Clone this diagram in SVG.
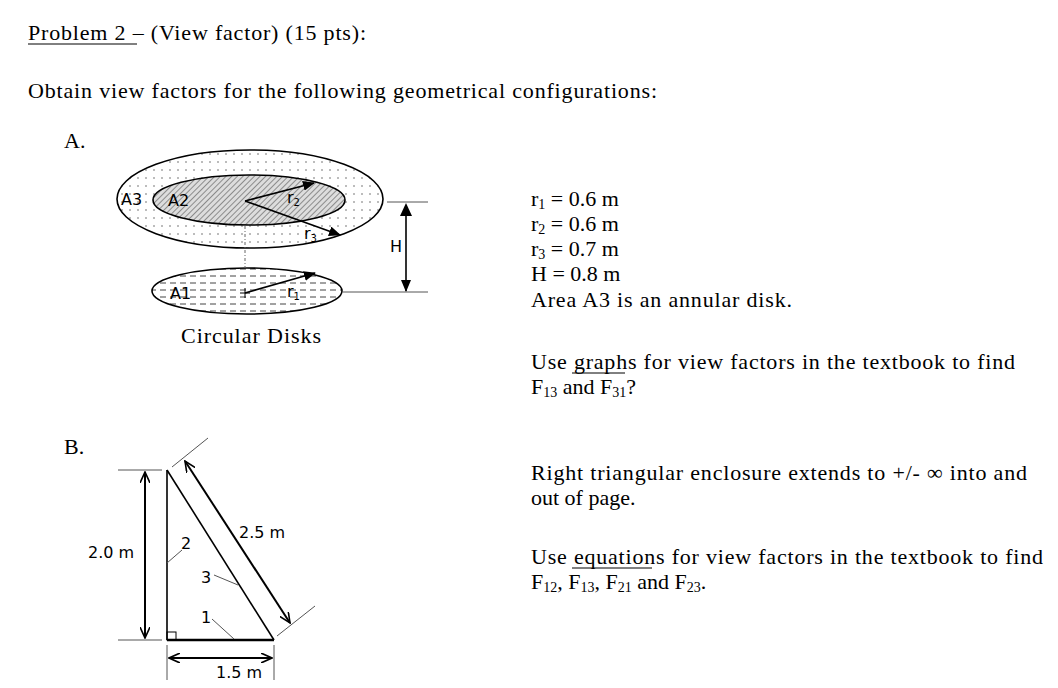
<svg xmlns="http://www.w3.org/2000/svg" width="1058" height="688" viewBox="0 0 1058 688">
<style>
.t{font-family:"Liberation Serif",serif;font-size:22px;fill:#000}
.s{font-family:"DejaVu Sans",sans-serif;font-size:16px;fill:#000}
.l{stroke:#000;fill:none;stroke-width:1.6}
.g{stroke:#555;fill:none;stroke-width:1}
</style>
<defs>
<pattern id="dots" width="8" height="8" patternUnits="userSpaceOnUse"><rect width="8" height="8" fill="#fff"/><circle cx="2" cy="2" r="0.8" fill="#666"/></pattern>
<pattern id="hatch" width="4" height="4" patternUnits="userSpaceOnUse" patternTransform="rotate(45)"><rect width="4" height="4" fill="#ddd"/><line x1="0" y1="0" x2="0" y2="4" stroke="#555" stroke-width="1.2"/></pattern>
<pattern id="dash" width="10" height="7" patternUnits="userSpaceOnUse"><rect width="10" height="7" fill="#fff"/><line x1="0" y1="3" x2="6" y2="3" stroke="#444" stroke-width="1"/></pattern>
<marker id="a" markerWidth="12" markerHeight="10" refX="11" refY="5" orient="auto" markerUnits="userSpaceOnUse"><path d="M0,0L12,5L0,10z" fill="#000"/></marker>
<marker id="o" markerWidth="12" markerHeight="10" refX="11" refY="5" orient="auto" markerUnits="userSpaceOnUse"><path d="M0,0L11,5L0,10" fill="none" stroke="#000" stroke-width="1.6"/></marker>
<marker id="os" markerWidth="12" markerHeight="10" refX="1" refY="5" orient="auto" markerUnits="userSpaceOnUse"><path d="M12,0L1,5L12,10" fill="none" stroke="#000" stroke-width="1.6"/></marker>
</defs>
<rect width="1058" height="688" fill="#fff"/>
<text class="t" x="28" y="40" textLength="338">Problem 2 – (View factor) (15 pts):</text>
<line x1="28" y1="44" x2="137" y2="44" stroke="#000" stroke-width="1"/>
<text class="t" x="28" y="98" textLength="629">Obtain view factors for the following geometrical configurations:</text>
<text class="t" x="64" y="148">A.</text>
<text class="t" x="64" y="454">B.</text>
<g id="diskA3"><ellipse cx="250" cy="199" rx="133" ry="49" style="fill:url(#dots)" class="l"/><text class="s" x="121" y="205">A3</text></g>
<g id="diskA2"><ellipse cx="249" cy="200" rx="96" ry="25" style="fill:url(#hatch)" class="l"/><text class="s" x="168" y="206" font-size="18">A2</text></g>
<g id="diskA1"><ellipse cx="247" cy="291" rx="95" ry="23" style="fill:url(#dash)" class="l"/><text class="s" x="170" y="299" font-size="18">A1</text></g>
<g id="connectors">
<line x1="245" y1="226" x2="245" y2="268" stroke="#666" stroke-dasharray="3,2,1,2"/>
<line x1="245" y1="201" x2="314" y2="183" class="l" marker-end="url(#a)"/>
<line x1="245" y1="201" x2="340" y2="235" class="l" marker-end="url(#a)"/>
<line x1="245" y1="293" x2="315" y2="273" class="l" marker-end="url(#a)"/>
<line x1="240" y1="293" x2="250" y2="293" stroke="#000"/><line x1="245" y1="288" x2="245" y2="298" stroke="#000"/>
<line x1="387" y1="202" x2="428" y2="202" class="g"/>
<line x1="343" y1="292" x2="428" y2="292" class="g"/>
<line x1="406" y1="214" x2="406" y2="291" class="l" marker-end="url(#a)"/>
<path d="M406,203l-6,13h12z" fill="#000"/>
<line x1="167" y1="470" x2="167" y2="640" class="l"/>
<line x1="167" y1="470" x2="274" y2="640" class="l"/>
<line x1="167" y1="640" x2="274" y2="640" stroke="#000" stroke-width="2.4"/>
<rect x="167" y="632" width="9" height="8" fill="none" stroke="#000" stroke-width="1"/>
<line x1="172" y1="467" x2="208" y2="438" class="g"/>
<line x1="277" y1="636" x2="315" y2="606" class="g"/>
<line x1="185" y1="461" x2="290" y2="623" stroke="#000" stroke-width="2" marker-start="url(#os)" marker-end="url(#o)"/>
<line x1="118" y1="470" x2="162" y2="470" class="g"/>
<line x1="118" y1="640" x2="162" y2="640" class="g"/>
<line x1="145" y1="472" x2="145" y2="638" stroke="#000" stroke-width="2" marker-start="url(#os)" marker-end="url(#o)"/>
<line x1="167" y1="645" x2="167" y2="680" class="g"/>
<line x1="274" y1="645" x2="274" y2="680" class="g"/>
<line x1="169" y1="658" x2="272" y2="658" stroke="#000" stroke-width="2" marker-start="url(#os)" marker-end="url(#o)"/>
<line x1="167" y1="563" x2="182" y2="550" class="g"/>
<line x1="214" y1="575" x2="238" y2="585" class="g"/>
<line x1="212" y1="619" x2="234" y2="639" class="g"/>
</g>
<text class="s" x="287" y="203" font-size="15" fill="#555">r<tspan font-size="10" dy="3">2</tspan></text>
<text class="s" x="304" y="239" font-size="15">r<tspan font-size="10" dy="3">3</tspan></text>
<text class="s" x="287" y="297" font-size="15">r<tspan font-size="10" dy="3">1</tspan></text>
<text class="s" x="390" y="252" font-size="15">H</text>
<text class="s" x="88" y="558">2.0 m</text>
<text class="s" x="239" y="538">2.5 m</text>
<text class="s" x="216" y="678">1.5 m</text>
<text class="s" x="181" y="549">2</text>
<text class="s" x="201" y="583">3</text>
<text class="s" x="201" y="623">1</text>
<text class="t" x="181" y="343" textLength="140">Circular Disks</text>
<text class="t" x="531" y="206">r<tspan font-size="14" dy="3">1</tspan><tspan dy="-3"> = 0.6 m</tspan></text>
<text class="t" x="531" y="231">r<tspan font-size="14" dy="3">2</tspan><tspan dy="-3"> = 0.6 m</tspan></text>
<text class="t" x="531" y="256">r<tspan font-size="14" dy="3">3</tspan><tspan dy="-3"> = 0.7 m</tspan></text>
<text class="t" x="531" y="281">H = 0.8 m</text>
<text class="t" x="531" y="307" textLength="261">Area A3 is an annular disk.</text>
<text class="t" x="531" y="369" textLength="484">Use graphs for view factors in the textbook to find</text>
<line x1="572" y1="373" x2="625" y2="373" stroke="#000"/>
<text class="t" x="531" y="394">F<tspan font-size="14" dy="3">13</tspan><tspan dy="-3"> and F</tspan><tspan font-size="14" dy="3">31</tspan><tspan dy="-3">?</tspan></text>
<text class="t" x="531" y="480" textLength="496">Right triangular enclosure extends to +/- ∞ into and</text>
<text class="t" x="531" y="505">out of page.</text>
<text class="t" x="531" y="564" textLength="512">Use equations for view factors in the textbook to find</text>
<line x1="572" y1="568" x2="652" y2="568" stroke="#000"/>
<text class="t" x="531" y="589">F<tspan font-size="14" dy="3">12</tspan><tspan dy="-3">, F</tspan><tspan font-size="14" dy="3">13</tspan><tspan dy="-3">, F</tspan><tspan font-size="14" dy="3">21</tspan><tspan dy="-3"> and F</tspan><tspan font-size="14" dy="3">23</tspan><tspan dy="-3">.</tspan></text>
</svg>
